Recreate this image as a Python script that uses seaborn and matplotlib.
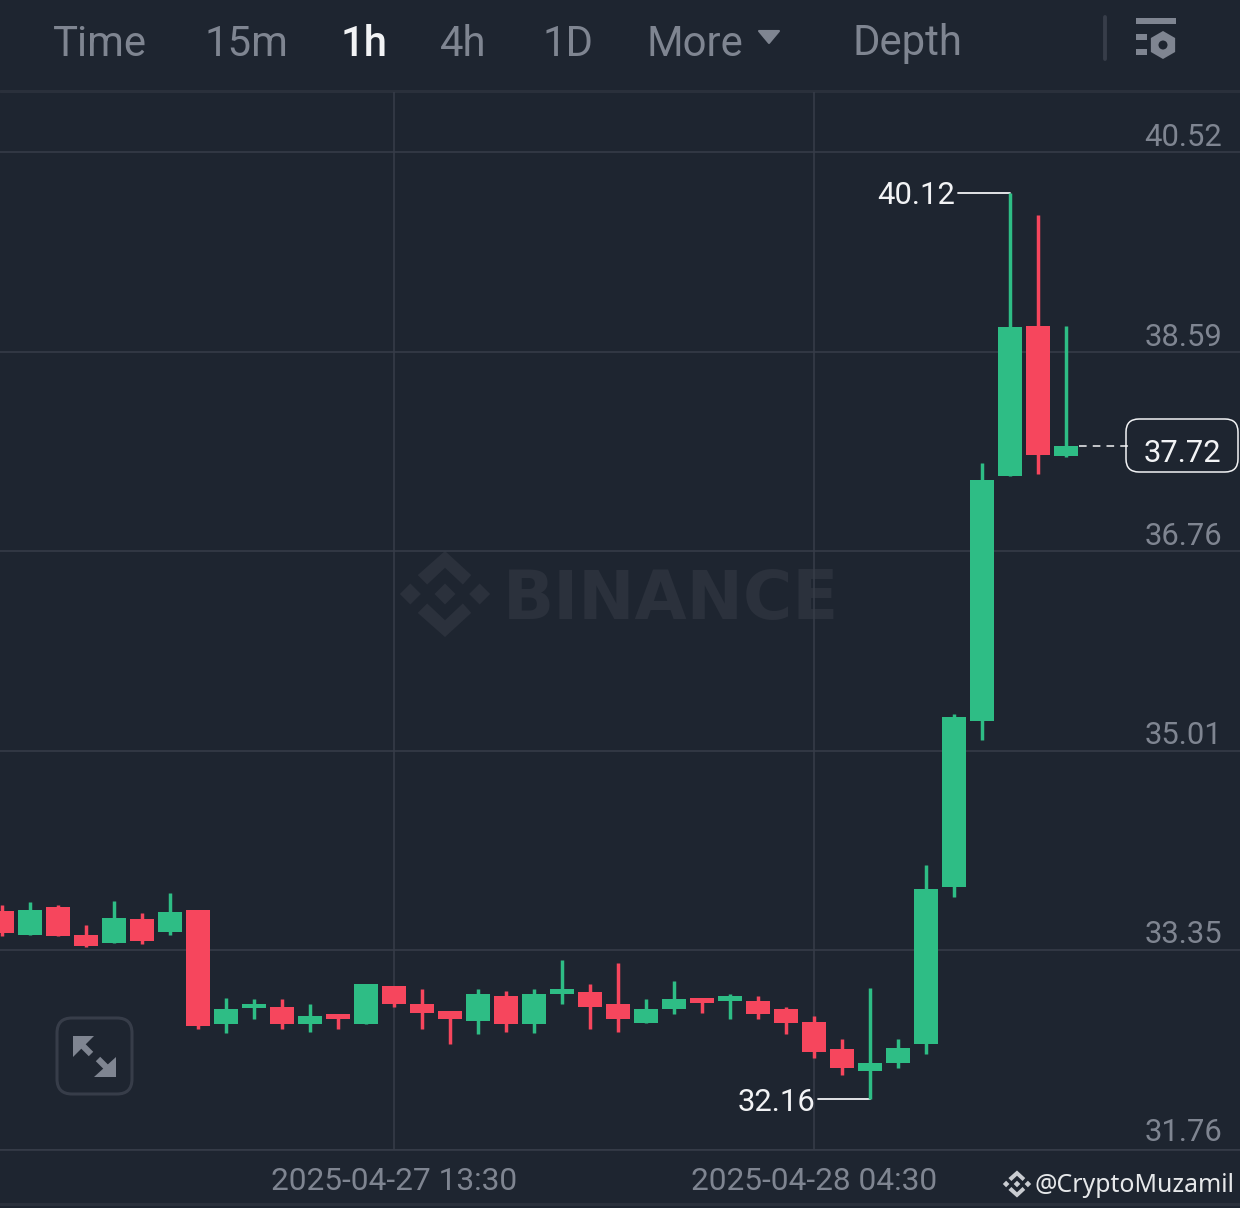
#!/usr/bin/env python3

import seaborn as sns
import numpy as np
import matplotlib.pyplot as plt
from matplotlib.patches import Polygon, FancyBboxPatch, Circle, Rectangle
from matplotlib.ticker import NullLocator

BG = '#1e2530'
GRID = '#373d49'
GREY = '#7f8591'
GREEN = '#2ebd85'
RED = '#f6465d'
WHITE = '#f2f3f5'
WATERMARK = '#2b313c'

# Hourly candles.
opens = [33.67, 33.47, 33.70, 33.47, 33.41, 33.60, 33.50, 33.68, 32.75, 32.88,
         32.89, 32.75, 32.83, 32.75, 33.06, 32.91, 32.86, 32.78, 32.98, 32.75,
         32.99, 33.01, 32.91, 32.76, 32.87, 32.96, 32.94, 32.94, 32.87, 32.77,
         32.55, 32.38, 32.44, 32.59, 33.87, 35.27, 37.44, 38.84, 37.62]
closes = [33.49, 33.68, 33.46, 33.38, 33.61, 33.42, 33.66, 32.74, 32.87, 32.91,
          32.75, 32.82, 32.79, 33.07, 32.91, 32.84, 32.79, 32.99, 32.75, 32.99,
          33.03, 32.89, 32.79, 32.87, 32.95, 32.92, 32.98, 32.83, 32.76, 32.53,
          32.40, 32.44, 32.56, 33.85, 35.30, 37.40, 38.83, 37.63, 37.72]
highs = [33.72, 33.74, 33.72, 33.55, 33.75, 33.65, 33.82, 33.68, 32.96, 32.95,
         32.95, 32.91, 32.83, 33.07, 33.06, 33.03, 32.86, 33.03, 33.02, 33.03,
         33.27, 33.07, 33.24, 32.95, 33.10, 32.96, 32.99, 32.98, 32.89, 32.82,
         32.63, 33.04, 32.63, 34.05, 35.33, 37.56, 40.12, 39.90, 38.84]
lows = [33.46, 33.47, 33.46, 33.37, 33.41, 33.40, 33.47, 32.71, 32.68, 32.79,
        32.71, 32.69, 32.71, 32.75, 32.89, 32.71, 32.59, 32.67, 32.69, 32.68,
        32.91, 32.71, 32.69, 32.76, 32.83, 32.84, 32.79, 32.79, 32.67, 32.48,
        32.35, 32.16, 32.40, 32.51, 33.78, 35.10, 37.44, 37.46, 37.61]

price_ticks = [40.52, 38.59, 36.76, 35.01, 33.35, 31.76]
time_ticks = [14, 29]
time_labels = ['2025-04-27 13:30', '2025-04-28 04:30']
tabs = ['Time', '15m', '1h', '4h', '1D', 'More', 'Depth']
tab_x = [53, 204, 341, 440, 542, 647, 852]

sns.set_theme(style='dark', rc={'axes.facecolor': 'none', 'figure.facecolor': BG,
                                'axes.edgecolor': GRID, 'grid.color': GRID})
plt.rcParams['font.family'] = ['Roboto', 'DejaVu Sans']


def logo(ax, cx, cy, s, color):
    # Binance diamond mark, drawn around its centre.
    for sign in (1, -1):
        pts = [(0, -41), (25, -18), (17, -9), (0, -25), (-17, -9), (-26, -18)]
        ax.add_patch(Polygon([(cx + s * x, cy + sign * s * y) for x, y in pts], fc=color, ec='none'))
    for dx in (-33, 0, 33):
        r = 10
        ax.add_patch(Polygon([(cx + s * (dx + a), cy + s * b) for a, b in
                              [(0, -r), (r, 0), (0, r), (-r, 0)]], fc=color, ec='none'))


def draw_chrome(fig):
    # Toolbar, watermark and buttons live on a pixel-sized axes behind the chart.
    ui = fig.add_axes([0, 0, 1, 1], zorder=0)
    ui.set_xlim(0, 1240)
    ui.set_ylim(1208, 0)
    ui.axis('off')

    for name, x in zip(tabs, tab_x):
        active = name == '1h'
        ui.text(x, 44, name, fontsize=30.2, color=WHITE if active else GREY,
                fontweight='medium' if active else 'normal', va='center', ha='left')
    ui.add_patch(Polygon([(759, 31), (779, 31), (769, 43)], fc=GREY, ec=GREY, lw=1.5, joinstyle='round'))

    ui.plot([0, 1240], [91, 91], color='#2a303b', lw=2.2)
    ui.plot([0, 1240], [1204, 1204], color='#2a303b', lw=2.2)
    ui.plot([1105, 1105], [17, 59], color=GRID, lw=2.8)

    # Settings icon.
    ui.add_patch(Rectangle((1136, 18), 40, 6, fc=GREY, ec='none'))
    ui.add_patch(Rectangle((1136, 34), 11, 6, fc=GREY, ec='none'))
    ui.add_patch(Rectangle((1136, 49), 11, 6, fc=GREY, ec='none'))
    angles = np.deg2rad(np.arange(30, 390, 60))
    ui.add_patch(Polygon(np.column_stack([1163 + 14 * np.cos(angles), 45 + 14 * np.sin(angles)]),
                         fc=GREY, ec='none'))
    ui.add_patch(Circle((1163, 45), 4.5, fc=BG, ec='none'))

    # Watermark.
    logo(ui, 445, 594, 1.05, WATERMARK)
    ui.text(503, 600, 'BINANCE', fontsize=48.5, fontweight='bold', family='DejaVu Sans',
            color=WATERMARK, va='center', ha='left')

    # Expand button.
    ui.add_patch(FancyBboxPatch((72, 1033), 45, 46, boxstyle='round,pad=15,rounding_size=15',
                                fc='none', ec=GRID, lw=2.2))
    ui.add_patch(Polygon([(73, 1036), (94, 1036), (73, 1057)], fc=GREY, ec='none'))
    ui.add_patch(Polygon([(116, 1077), (94, 1077), (116, 1057)], fc=GREY, ec='none'))
    ui.plot([80, 91], [1043, 1054], color=GREY, lw=4.5, solid_capstyle='butt')
    ui.plot([98, 109], [1059, 1070], color=GREY, lw=4.5, solid_capstyle='butt')

    # Attribution.
    logo(ui, 1017, 1184, 0.33, '#c9ccd1')
    ui.text(1034, 1185, '@CryptoMuzamil', fontsize=17.9, family='Noto Sans', color='#e6e8ea',
            va='center', ha='left')


def draw_candles(fig):
    ax = fig.add_axes([0, 58 / 1208, 1, 1058 / 1208], zorder=1)
    ax.set_yscale('log')
    ax.set_xlim(-2 / 28, 1238 / 28)
    ax.set_ylim(31.76, 41.12)
    ax.set_yticks(price_ticks)
    ax.set_yticklabels([])
    ax.yaxis.set_minor_locator(NullLocator())
    ax.set_xticks(time_ticks, time_labels, fontsize=22.8, color=GREY)
    ax.tick_params(axis='both', length=0)
    ax.tick_params(axis='x', pad=12.5)
    ax.grid(True, color=GRID, lw=1.1)
    ax.set_axisbelow(True)
    sns.despine(ax=ax, top=True, left=True, right=True, bottom=False)
    ax.spines['bottom'].set_linewidth(1.1)

    idx = np.arange(len(opens))
    o, c = np.array(opens), np.array(closes)
    colors = [GREEN if up else RED for up in c >= o]
    ax.vlines(idx, lows, highs, colors=colors, lw=2.5, zorder=3)
    ax.bar(idx, np.abs(c - o), bottom=np.minimum(o, c), width=0.875, color=colors, lw=0, zorder=4)

    # Price labels sit just above their gridline.
    for p in price_ticks:
        off = 12.3 if p == 31.76 else 10.8
        ax.annotate(f'{p:.2f}', (1222 / 28 - 2 / 28, p), xytext=(0, off), textcoords='offset points',
                    ha='right', va='center', fontsize=22.3, color=GREY, annotation_clip=False)

    # High and low markers.
    hi, lo = int(np.argmax(highs)), int(np.argmin(lows))
    ax.plot([hi - 1.85, hi], [highs[hi], highs[hi]], color=WHITE, lw=1.3, zorder=2)
    ax.annotate(f'{highs[hi]:.2f}', (hi - 1.95, highs[hi]), xytext=(0, -2), textcoords='offset points',
                ha='right', va='center', fontsize=22.3, color=WHITE)
    ax.plot([lo - 1.85, lo], [lows[lo], lows[lo]], color=WHITE, lw=1.3, zorder=2)
    ax.annotate(f'{lows[lo]:.2f}', (lo - 1.95, lows[lo]), xytext=(0, -2.5), textcoords='offset points',
                ha='right', va='center', fontsize=22.3, color=WHITE)

    # Last price tag.
    last = closes[-1]
    ax.plot([len(opens) - 1 + 0.45, 40.2], [last, last], color=WHITE, lw=1.1, ls=(0, (5, 4)), zorder=2)
    ax.annotate(f'{last:.2f}', (1182 / 28 - 2 / 28, last), xytext=(0, -5.5), textcoords='offset points',
                ha='center', va='center', fontsize=22.3, color=WHITE)
    fig.axes[0].add_patch(FancyBboxPatch((1139, 432), 86, 27, boxstyle='round,pad=13,rounding_size=13',
                                         fc=BG, ec=WHITE, lw=1.1))
    return ax


def main():
    fig = plt.figure(figsize=(12.4, 12.08), dpi=100)
    draw_chrome(fig)
    draw_candles(fig)
    fig.savefig('out.png', dpi=100, facecolor=BG)


if __name__ == '__main__':
    main()
